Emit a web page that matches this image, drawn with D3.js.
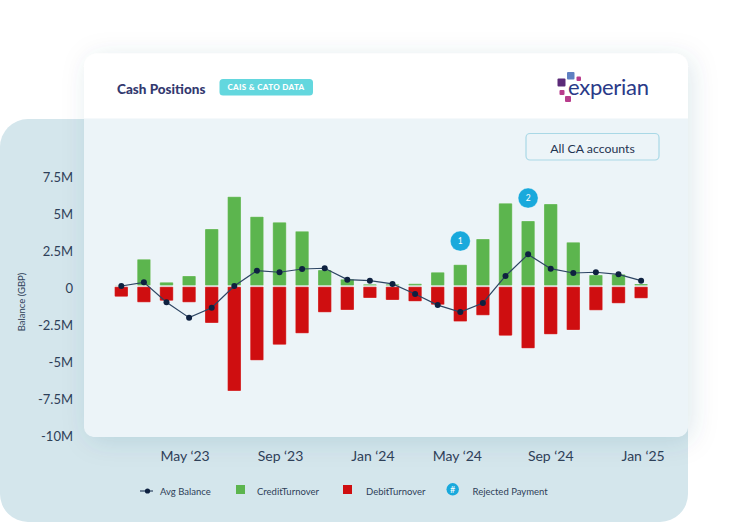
<!DOCTYPE html>
<html>
<head>
<meta charset="utf-8">
<script src="https://cdnjs.cloudflare.com/ajax/libs/d3/7.8.5/d3.min.js"></script>
<style>
  html, body { margin: 0; padding: 0; background: #fff; }
  svg { display: block; }
  text { font-family: Lato, "Open Sans", sans-serif; }
  .axis text { fill: #2e4058; font-size: 14px; }
  .axis.left text { font-size: 13px; }
  .legend text { fill: #2e4058; font-size: 9.5px; }
</style>
</head>
<body>
<div id="chart"></div>
<script>
// values are in millions of GBP
const months = ["Feb ‘23", "Mar ‘23", "Apr ‘23", "May ‘23", "Jun ‘23", "Jul ‘23", "Aug ‘23", "Sep ‘23",
  "Oct ‘23", "Nov ‘23", "Dec ‘23", "Jan ‘24", "Feb ‘24", "Mar ‘24", "Apr ‘24", "May ‘24",
  "Jun ‘24", "Jul ‘24", "Aug ‘24", "Sep ‘24", "Oct ‘24", "Nov ‘24", "Dec ‘24", "Jan ‘25"];
const creditTurnover = [0.05, 1.81, 0.25, 0.68, 3.86, 6.04, 4.69, 4.31, 3.7, 1.08, 0.45, 0.12,
  0.12, 0.15, 0.93, 1.44, 3.18, 5.6, 4.4, 5.55, 2.96, 0.74, 0.79, 0.14];
const debitTurnover = [-0.72, -1.1, -1.0, -1.1, -2.5, -7.1, -5.03, -3.97, -3.2, -1.78, -1.62, -0.81,
  -0.95, -1.04, -1.27, -2.41, -1.98, -3.36, -4.22, -3.27, -2.98, -1.64, -1.17, -0.83];
const avgBalance = [0, 0.25, -1.1, -2.14, -1.47, 0, 1.04, 0.93, 1.15, 1.2, 0.43, 0.36,
  0.14, -0.54, -1.29, -1.76, -1.15, 0.68, 2.14, 1.17, 0.88, 0.93, 0.79, 0.36];
const rejectedMonths = ["May ‘24", "Aug ‘24"];
const rejectedLevels = [3.04, 5.95];
const yTicks = [7.5, 5, 2.5, 0, -2.5, -5, -7.5, -10];
const yTickLabels = ["7.5M", "5M", "2.5M", "0", "-2.5M", "-5M", "-7.5M", "-10M"];
const xTicks = ["May ‘23", "Sep ‘23", "Jan ‘24", "May ‘24", "Sep ‘24", "Jan ‘25"];

const svg = d3.select("#chart").append("svg").attr("width", 750).attr("height", 523);

const defs = svg.append("defs");
const shadow = defs.append("filter").attr("id", "cardShadow")
  .attr("x", "-15%").attr("y", "-20%").attr("width", "130%").attr("height", "140%");
shadow.append("feDropShadow").attr("dx", 4).attr("dy", 4).attr("stdDeviation", 13)
  .attr("flood-color", "#1d4f68").attr("flood-opacity", 0.13);

// background panel and card
svg.append("rect").attr("x", 0).attr("y", 119).attr("width", 688).attr("height", 403)
  .attr("rx", 28).attr("fill", "#d4e6ec");
svg.append("rect").attr("x", 84).attr("y", 53.5).attr("width", 604).attr("height", 383.5)
  .attr("rx", 13).attr("fill", "#fff").attr("filter", "url(#cardShadow)");
svg.append("path").attr("fill", "#ecf4f8")
  .attr("d", "M84,118.5H688V427a10,10 0 0 1 -10,10H94a10,10 0 0 1 -10,-10Z");

// header
svg.append("text").attr("x", 117).attr("y", 94).attr("fill", "#33396f")
  .attr("font-size", 13.5).attr("font-weight", 900).text("Cash Positions");
svg.append("rect").attr("x", 219.5).attr("y", 79).attr("width", 93.5).attr("height", 16.5)
  .attr("rx", 3.5).attr("fill", "#63d7de");
svg.append("text").attr("x", 266).attr("y", 90.4).attr("text-anchor", "middle").attr("fill", "#fff")
  .attr("font-size", 8).attr("font-weight", 900).attr("letter-spacing", 0.35).text("CAIS & CATO DATA");

// logo
const logo = svg.append("g");
[[567, 72, 7.5, "#5f80c2"], [576.5, 76.5, 4.5, "#b83c8c"], [557.5, 78.5, 8, "#5b2a78"],
 [559.5, 90, 5, "#b83c8c"], [565, 96, 6, "#b83c8c"]].forEach(s => {
  logo.append("rect").attr("x", s[0]).attr("y", s[1]).attr("width", s[2]).attr("height", s[2])
    .attr("rx", 1).attr("fill", s[3]);
});
logo.append("text").attr("x", 568).attr("y", 95).attr("fill", "#2a3a88").attr("font-weight", 400)
  .attr("font-size", 22).attr("textLength", 81).text("experian");

// account selector
svg.append("rect").attr("x", 526).attr("y", 133.5).attr("width", 133).attr("height", 26.5)
  .attr("rx", 4).attr("fill", "none").attr("stroke", "#a9d8e6").attr("stroke-width", 1.2);
svg.append("text").attr("x", 592.5).attr("y", 153).attr("text-anchor", "middle").attr("fill", "#1f3350")
  .attr("font-size", 12.3).text("All CA accounts");

// scales
const x = d3.scaleBand().domain(months).range([110, 652.4]).paddingInner(0.406).paddingOuter(0.203);
const y = d3.scaleLinear().domain([-10, 7.5]).range([433.8, 175.15]);
const cx = m => x(m) + x.bandwidth() / 2;

// axes
const yAxis = svg.append("g").attr("class", "axis left").attr("transform", "translate(73,0)")
  .call(d3.axisLeft(y).tickValues(yTicks).tickSize(0).tickPadding(0)
    .tickFormat((d, i) => yTickLabels[i]));
yAxis.select(".domain").remove();
yAxis.selectAll("text").attr("dy", "0.5em");

// the labels in the picture are not quite centred under their months
const xLabelNudge = [-4, 1, 3, -3, 0, 2];
const xAxis = svg.append("g").attr("class", "axis").attr("transform", "translate(0,453)")
  .call(d3.axisBottom(x).tickValues(xTicks).tickSize(0).tickPadding(0));
xAxis.select(".domain").remove();
xAxis.selectAll("text").attr("dy", "0.6em").attr("dx", (d, i) => xLabelNudge[i]);

svg.append("text").attr("transform", "translate(25,302) rotate(-90)").attr("text-anchor", "middle")
  .attr("fill", "#2e4058").attr("font-size", 9.5).text("Balance (GBP)");

// bars
svg.append("g").selectAll("rect").data(months).join("rect")
  .attr("x", d => x(d)).attr("width", x.bandwidth())
  .attr("y", (d, i) => y(creditTurnover[i]))
  .attr("height", (d, i) => y(0) - y(creditTurnover[i]) - 0.4)
  .attr("rx", 0.8).attr("fill", "#5cb54e")
  .attr("stroke", "#fff").attr("stroke-opacity", 0.45).attr("stroke-width", 0.6);
svg.append("g").selectAll("rect").data(months).join("rect")
  .attr("x", d => x(d)).attr("width", x.bandwidth())
  .attr("y", y(0) + 0.8)
  .attr("height", (d, i) => y(debitTurnover[i]) - y(0) - 0.8)
  .attr("rx", 0.8).attr("fill", "#cf0e10")
  .attr("stroke", "#fff").attr("stroke-opacity", 0.45).attr("stroke-width", 0.6);

// average balance
const line = d3.line().x((d, i) => cx(months[i])).y(d => y(d));
svg.append("path").attr("d", line(avgBalance)).attr("fill", "none")
  .attr("stroke", "#2d4563").attr("stroke-width", 1.2);
svg.append("g").selectAll("circle").data(avgBalance).join("circle")
  .attr("cx", (d, i) => cx(months[i])).attr("cy", d => y(d)).attr("r", 3).attr("fill", "#0e2140");

// rejected payment callouts
const callouts = svg.append("g").selectAll("g").data(rejectedMonths).join("g")
  .attr("transform", (d, i) => `translate(${cx(d)},${y(rejectedLevels[i])})`);
callouts.append("circle").attr("r", 10).attr("fill", "#19a9dc")
  .attr("stroke", "#fff").attr("stroke-opacity", 0.4).attr("stroke-width", 0.8);
callouts.append("text").attr("text-anchor", "middle").attr("dy", "0.36em").attr("fill", "#fff")
  .attr("font-size", 8.5).text((d, i) => i + 1);

// legend
const legend = svg.append("g").attr("class", "legend");
legend.append("line").attr("x1", 140).attr("x2", 153).attr("y1", 491).attr("y2", 491)
  .attr("stroke", "#2d4563").attr("stroke-width", 1.2);
legend.append("circle").attr("cx", 147.5).attr("cy", 491).attr("r", 2.6).attr("fill", "#0e2140");
legend.append("text").attr("x", 160).attr("y", 494.5).text("Avg Balance");
legend.append("rect").attr("x", 236).attr("y", 485).attr("width", 9).attr("height", 9).attr("fill", "#5cb54e");
legend.append("text").attr("x", 257).attr("y", 494.5).text("CreditTurnover");
legend.append("rect").attr("x", 343).attr("y", 485).attr("width", 9).attr("height", 9).attr("fill", "#cf0e10");
legend.append("text").attr("x", 366).attr("y", 494.5).text("DebitTurnover");
legend.append("circle").attr("cx", 452.7).attr("cy", 489.3).attr("r", 6.2).attr("fill", "#19a9dc");
legend.append("text").attr("x", 452.7).attr("y", 492.5).attr("text-anchor", "middle")
  .style("fill", "#fff").style("font-size", "9px").text("#");
legend.append("text").attr("x", 472.5).attr("y", 494.5).text("Rejected Payment");
</script>
</body>
</html>
